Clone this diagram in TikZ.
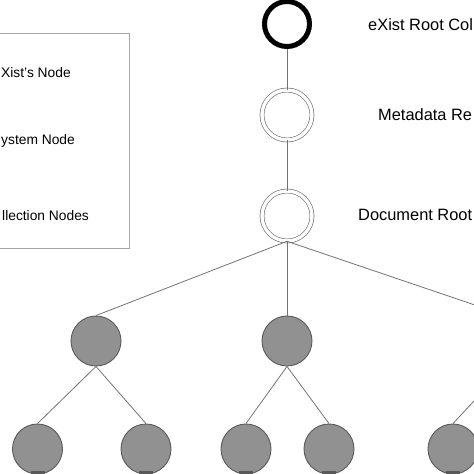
\documentclass[tikz,border=0pt]{standalone}
\usepackage{fontspec}
\setmainfont{Liberation Sans}
\begin{document}
\begin{tikzpicture}[x=1pt,y=-1pt,
  conn/.style={draw=black!55,line width=0.8pt},
  filled/.style={circle,draw=black!65,fill=black!43,line width=0.9pt,minimum size=50pt,inner sep=0pt},
  ring/.style={circle,draw=black!60,line width=0.6pt,minimum size=50pt,inner sep=0pt,double=white,double distance=3.4pt},
  rootc/.style={circle,draw=black,line width=5pt,minimum size=45pt,inner sep=0pt},
  lab/.style={font=\fontsize{16.4}{18}\selectfont,text=black,inner sep=0pt},
  leg/.style={font=\fontsize{13.8}{16}\selectfont,text=black,inner sep=0pt},
  tab/.style={fill=black!65}]
\useasboundingbox (0,0) rectangle (474,474);
\clip (0,0) rectangle (474,474);
% legend
\draw[draw=black!35,line width=0.9pt] (-20,33) rectangle (129,248);
\node[leg,anchor=west] (l1) at (1,73) {Xist's Node};
\node[leg,anchor=west] (l2) at (1,141) {ystem Node};
\node[leg,anchor=west] (l3) at (2,216) {llection Nodes};
% top chain
\node[rootc] (root) at (287,24) {};
\node[ring] (meta) at (287,115) {};
\node[ring] (doc) at (287,216) {};
\node[lab,anchor=west] (t1) at (368,25) {eXist Root Col};
\node[lab,anchor=west] (t2) at (378,115) {Metadata Re};
\node[lab,anchor=west] (t3) at (358,215) {Document Root};
\coordinate (up) at (287,-5);
\draw[black,line width=3pt] (root.north) -- (up);
\draw[conn] (root.south) -- (meta.north);
\draw[conn] (meta.south) -- (doc.north);
% children
\node[filled] (c1) at (96,341) {};
\node[filled] (c2) at (287,341) {};
\node[filled] (c3) at (506,341) {};
\draw[conn] (doc.south) -- (c1.north);
\draw[conn] (doc.south) -- (c2.north);
\draw[conn] (doc.south) -- (c3.north);
% grandchildren
\node[filled] (g1) at (37.5,449) {};
\node[filled] (g2) at (146,449) {};
\node[filled] (g3) at (246,449) {};
\node[filled] (g4) at (329,449) {};
\node[filled] (g5) at (453,449) {};
\draw[conn] (c1.south) -- (g1.north);
\draw[conn] (c1.south) -- (g2.north);
\draw[conn] (c2.south) -- (g3.north);
\draw[conn] (c2.south) -- (g4.north);
\draw[conn] (c3.south) -- (g5.north);
\foreach \g in {g1,g2,g3,g4,g5}{
  \fill[tab] ([xshift=-7pt,yshift=-3pt]\g.south) rectangle ([xshift=7pt,yshift=3pt]\g.south);
}
\end{tikzpicture}
\end{document}
